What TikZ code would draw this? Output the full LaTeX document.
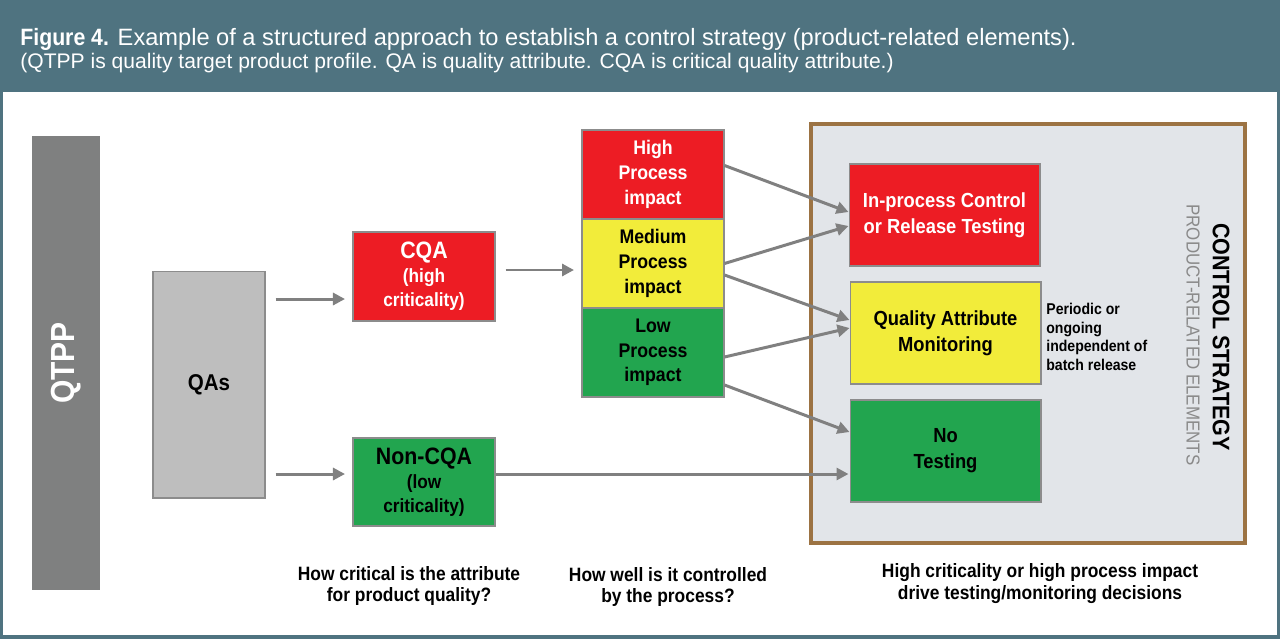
\documentclass[tikz,border=0pt]{standalone}
\usepackage{fontspec}
\setmainfont{Liberation Sans}[FakeStretch=0.9]
\newfontfamily\hdfont{Liberation Sans}
\usetikzlibrary{calc,arrows.meta}
\definecolor{frame}{HTML}{4F7380}
\definecolor{hired}{HTML}{ED1C24}
\definecolor{medyel}{HTML}{F2EC3A}
\definecolor{logreen}{HTML}{22A54F}
\definecolor{bargray}{HTML}{7F8080}
\definecolor{qagray}{HTML}{BEBEBE}
\definecolor{edge}{HTML}{8C8C8C}
\definecolor{arrgray}{HTML}{808080}
\definecolor{ctrlfill}{HTML}{E2E5E9}
\definecolor{ctrlline}{HTML}{9C7343}
\definecolor{subgray}{HTML}{8A8A8A}
\tikzset{
  box/.style={draw=edge, line width=0.6pt, align=center, inner sep=0pt, font=\bfseries},
  colbox/.style={box, minimum width=2.84cm, minimum height=1.78cm, font=\bfseries\fontsize{11.2}{14}\selectfont},
  outbox/.style={box, minimum width=3.82cm, minimum height=2.04cm, font=\bfseries\fontsize{11.6}{14.7}\selectfont},
  arr/.style={draw=arrgray, line width=1.7pt, -{Triangle[length=0.24cm,width=0.24cm]}},
  gap/.style={shorten <=0.2cm, shorten >=0.15cm},
  ttl/.style={text=white, anchor=base west, inner sep=0pt},
  ask/.style={align=center, font=\bfseries\fontsize{11}{12.5}\selectfont},
}

\begin{document}
\begin{tikzpicture}[x=0.02cm, y=-0.02cm]
  \useasboundingbox (0,0) rectangle (1280,639);
  % frame and header band
  \fill[frame] (0,0) rectangle (1280,639);
  \fill[white] (3,92) rectangle (1277,635);
  \node[ttl, font=\hdfont\fontsize{13.45}{16}\selectfont] (title) at (20,45)
    {{\normalfont\bfseries Figure 4.} Example of a structured approach to establish a control strategy (product-related elements).};
  \node[ttl, font=\hdfont\fontsize{12}{14}\selectfont] (subtitle) at (20,68)
    {(QTPP is quality target product profile. QA is quality attribute. CQA is critical quality attribute.)};

  % left column
  \node[fill=bargray, minimum width=1.36cm, minimum height=9.08cm, inner sep=0pt] (qtpp) at (66,363) {};
  \node[text=white, rotate=90, font=\bfseries\fontsize{19}{22}\selectfont] (qtpplbl) at (qtpp) {QTPP};
  \node[box, fill=qagray, minimum width=2.24cm, minimum height=4.54cm, font=\bfseries\fontsize{13}{15}\selectfont] (qas) at (209,384.5) {QAs};

  % criticality
  \node[box, fill=hired, text=white, minimum width=2.84cm, minimum height=1.78cm, font=\bfseries\fontsize{10.9}{13.6}\selectfont] (cqa) at (424,276.5)
    {{\fontsize{13.5}{16}\selectfont CQA}\\(high\\criticality)};
  \node[box, fill=logreen, minimum width=2.84cm, minimum height=1.76cm, font=\bfseries\fontsize{10.9}{13.6}\selectfont] (noncqa) at (424,482)
    {{\fontsize{13.5}{16}\selectfont Non-CQA}\\(low\\criticality)};

  % process impact
  \node[colbox, fill=hired, text=white] (high) at (653,174.5) {High\\Process\\impact};
  \node[colbox, fill=medyel] (med) at (653,263.5) {Medium\\Process\\impact};
  \node[colbox, fill=logreen] (low) at (653,352.5) {Low\\Process\\impact};

  % control strategy
  \node[draw=ctrlline, fill=ctrlfill, line width=1.8pt, minimum width=8.68cm, minimum height=8.38cm] (ctrl) at (1028,333.5) {};
  \node[outbox, fill=hired, text=white] (inproc) at (944.5,215) {In-process Control\\or Release Testing};
  \node[outbox, fill=medyel] (qam) at (945.5,333) {Quality Attribute\\Monitoring};
  \node[outbox, fill=logreen] (notest) at (945.5,451) {No\\Testing};
  \node[anchor=north west, align=left, inner sep=0pt, font=\bfseries\fontsize{8.9}{10.6}\selectfont] (periodic) at (1046,303)
    {Periodic or\\ongoing\\independent of\\batch release};
  \node[rotate=-90, font=\bfseries\fontsize{13.6}{16}\selectfont] (ctrlname) at (1221,337) {CONTROL STRATEGY};
  \node[rotate=-90, text=subgray, font=\fontsize{10.7}{12}\selectfont] (ctrlsub) at (1193,335) {PRODUCT-RELATED ELEMENTS};

  % connectors
  \coordinate (cqain) at ($(cqa.west)!.5!(cqa.south west)$);
  \draw[arr, gap] (qas.east |- cqain) -- (cqain);
  \draw[arr, gap] ([yshift=.16cm]noncqa.west -| qas.east) -- ([yshift=.16cm]noncqa.west);
  \draw[arr, gap] ([yshift=.13cm]cqa.east) -- ([yshift=.13cm]cqa.east -| med.west);
  \draw[arr] ([yshift=.18cm]high.east) -- ([yshift=.06cm]inproc.west);
  \draw[arr] (med.east) -- ([yshift=-.22cm]inproc.west);
  \draw[arr] ([yshift=-.23cm]med.east) -- ([yshift=.26cm]qam.west);
  \draw[arr] ([yshift=-.09cm]low.east) -- ([yshift=.1cm]qam.west);
  \draw[arr] ([yshift=-.65cm]low.east) -- ([yshift=.38cm]notest.west);
  \draw[arr, shorten >=0.02cm] ([yshift=.16cm]noncqa.east) -- ([yshift=.16cm]noncqa.east -| notest.west);

  % questions
  \node[ask] (askcrit) at (409,586) {How critical is the attribute\\for product quality?};
  \node[ask] (askproc) at (668,587) {How well is it controlled\\by the process?};
  \node[ask] (askdrive) at (1040,584) {High criticality or high process impact\\drive testing/monitoring decisions};
\end{tikzpicture}
\end{document}
